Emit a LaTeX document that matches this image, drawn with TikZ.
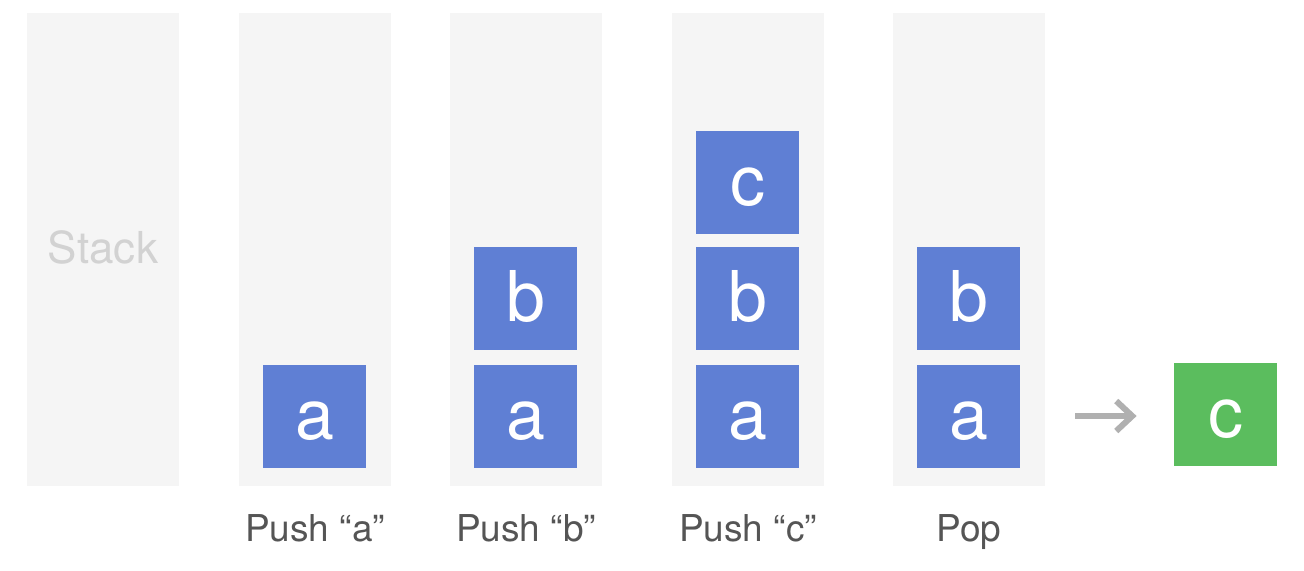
\documentclass[tikz,border=0pt]{standalone}
\usepackage{fontspec}
\setmainfont{TeX Gyre Heros}
\usepackage{tikz}
\usetikzlibrary{positioning}
\usetikzlibrary{arrows.meta}

\definecolor{colbg}{HTML}{F5F5F5}
\definecolor{itemblue}{HTML}{5F7FD4}
\definecolor{popgreen}{HTML}{5BBD5E}
\definecolor{arrowgray}{HTML}{B0B0B0}
\definecolor{labelgray}{HTML}{555555}
\definecolor{faintgray}{HTML}{D2D2D2}

\tikzset{
  column/.style={fill=colbg, minimum width=76pt, minimum height=236.5pt, inner sep=0pt},
  item/.style={fill=itemblue, text=white, minimum size=51.5pt, inner sep=0pt,
    text height=23pt, text depth=0pt, font=\fontsize{35}{35}\selectfont},
  popped/.style={item, fill=popgreen},
  caption/.style={text=labelgray, text height=13pt, text depth=4pt,
    font=\fontsize{18.5}{18.5}\selectfont},
}

\begin{document}
\begin{tikzpicture}[x=0.5pt, y=-0.5pt]
  \useasboundingbox (0,0) rectangle (1304,570);

  % empty stack
  \node [column] (s0) at (103,249.5) {};
  \node [text=faintgray, font=\fontsize{22}{22}\selectfont] (title) at (103,247) {Stack};

  % push a
  \node [column] (s1) at (315,249.5) {};
  \node [item] (a1) at (314.5,416) {a};
  \node [caption] (l1) at (315,532) {Push “a”};

  % push b
  \node [column] (s2) at (526,249.5) {};
  \node [item] (a2) at (525.5,416) {a};
  \node [item] (b2) at (525.5,298.5) {b};
  \node [caption] (l2) at (526,532) {Push “b”};

  % push c
  \node [column] (s3) at (748,249.5) {};
  \node [item] (a3) at (747.5,416) {a};
  \node [item] (b3) at (747.5,298.5) {b};
  \node [item] (c3) at (747.5,182.5) {c};
  \node [caption] (l3) at (748,532) {Push “c”};

  % pop
  \node [column] (s4) at (969,249.5) {};
  \node [item] (a4) at (968.5,416) {a};
  \node [item] (b4) at (968.5,298.5) {b};
  \node [caption] (l4) at (969,532) {Pop};

  \node [popped] (out) at (1225.5,414) {c};

  \draw [arrowgray, line width=3pt, -{Straight Barb[length=8pt, width=15pt]}]
    ([xshift=27.5pt]a4.east) -- ([xshift=-18.5pt]out.west |- a4.east);

\end{tikzpicture}
\end{document}
